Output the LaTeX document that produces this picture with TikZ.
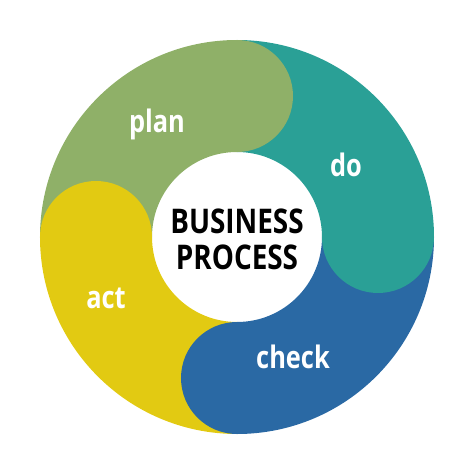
\documentclass[tikz,border=0pt]{standalone}
\usepackage{fontspec}
\setmainfont{Open Sans}[FakeStretch=0.82]
\usepackage{xcolor}
\definecolor{plancol}{RGB}{143,176,104}
\definecolor{docol}{RGB}{42,160,150}
\definecolor{checkcol}{RGB}{42,105,164}
\definecolor{actcol}{RGB}{226,202,18}

\begin{document}
\begin{tikzpicture}[x=1pt,y=1pt,
   step label/.style={text=white,font=\fontsize{31}{31}\selectfont\bfseries,anchor=base,inner sep=0pt},
   centre label/.style={text=black,font=\fontsize{34}{34}\selectfont\bfseries,anchor=base,inner sep=0pt}]
\useasboundingbox (-237,-237) rectangle (237,237);
% quarter rings, clockwise from the left
\foreach \ang/\col in {180/plancol,90/docol,0/checkcol,270/actcol}{
  \fill[\col] (\ang:197) arc[start angle=\ang,end angle=\ang-90,radius=197]
     -- (\ang-90:85) arc[start angle=\ang-90,end angle=\ang,radius=85] -- cycle;
}
% round heads
\foreach \ang/\col in {90/plancol,0/docol,270/checkcol,180/actcol}
  \fill[\col] (\ang:141) circle[radius=56];
\node[step label] (plan) at (-80,104) {plan};
\node[step label] (do) at (109,61) {do};
\node[step label] (check) at (56,-131) {check};
\node[step label] (act) at (-131,-71) {act};
\node[centre label] (business) at (0,4) {BUSINESS};
\node[centre label] (process) at (0,-32) {PROCESS};
\end{tikzpicture}
\end{document}
